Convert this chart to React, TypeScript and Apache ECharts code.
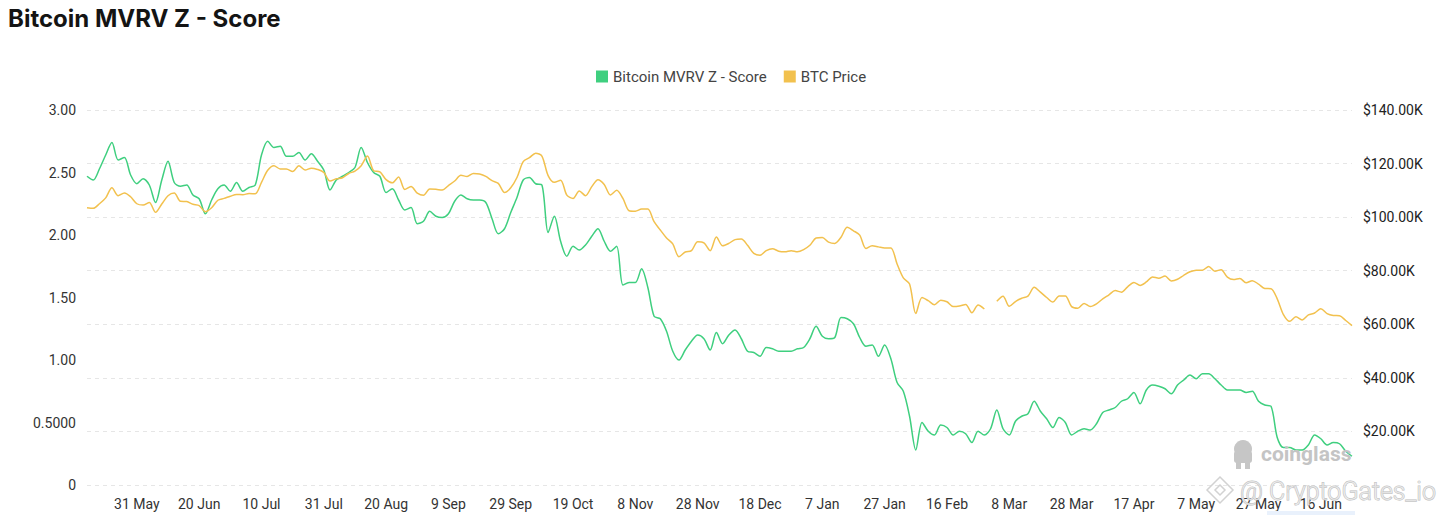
import React, { useEffect, useRef } from 'react';
import * as echarts from 'echarts';

// ---- categories (every 2 days from 15 May 2025, one 3-day step in July) ----
const START_UTC = Date.UTC(2025, 4, 15);
const MONTHS = ['Jan', 'Feb', 'Mar', 'Apr', 'May', 'Jun', 'Jul', 'Aug', 'Sep', 'Oct', 'Nov', 'Dec'];
const STEP_DAYS = 2;
const EXTRA_DAY_FROM_INDEX = 34;
const POINT_COUNT = 204;
const dates: string[] = Array.from({ length: POINT_COUNT }, (_, k) => {
  const d = new Date(START_UTC + (STEP_DAYS * k + (k >= EXTRA_DAY_FROM_INDEX ? 1 : 0)) * 86400000);
  return `${d.getUTCDate()} ${MONTHS[d.getUTCMonth()]}`;
});
const LABEL_FIRST = 8;
const LABEL_EVERY = 10;

// ---- series ----
const mvrvZ: number[] = [
  2.47, 2.44, 2.53, 2.64, 2.74, 2.60, 2.62, 2.48, 2.41, 2.45,
  2.40, 2.26, 2.44, 2.59, 2.42, 2.39, 2.40, 2.32, 2.29, 2.17,
  2.28, 2.37, 2.40, 2.35, 2.42, 2.35, 2.38, 2.40, 2.64, 2.75,
  2.70, 2.71, 2.63, 2.63, 2.66, 2.60, 2.65, 2.59, 2.52, 2.36,
  2.44, 2.47, 2.50, 2.54, 2.70, 2.58, 2.50, 2.47, 2.34, 2.37,
  2.28, 2.20, 2.22, 2.09, 2.11, 2.19, 2.15, 2.14, 2.17, 2.27,
  2.32, 2.29, 2.28, 2.28, 2.26, 2.13, 2.01, 2.05, 2.18, 2.30,
  2.44, 2.46, 2.41, 2.40, 2.02, 2.15, 1.95, 1.83, 1.91, 1.88,
  1.92, 1.99, 2.05, 1.95, 1.87, 1.91, 1.60, 1.62, 1.62, 1.73,
  1.58, 1.35, 1.33, 1.23, 1.07, 1.00, 1.08, 1.15, 1.20, 1.17,
  1.08, 1.22, 1.13, 1.20, 1.24, 1.17, 1.07, 1.06, 1.03, 1.10,
  1.09, 1.07, 1.07, 1.07, 1.09, 1.10, 1.17, 1.27, 1.19, 1.17,
  1.18, 1.34, 1.33, 1.29, 1.18, 1.11, 1.12, 1.03, 1.12, 1.01,
  0.82, 0.75, 0.55, 0.28, 0.50, 0.43, 0.40, 0.48, 0.46, 0.40,
  0.43, 0.41, 0.34, 0.43, 0.40, 0.45, 0.60, 0.45, 0.40, 0.51,
  0.55, 0.57, 0.67, 0.59, 0.53, 0.46, 0.54, 0.50, 0.40, 0.43,
  0.45, 0.44, 0.49, 0.58, 0.60, 0.62, 0.67, 0.69, 0.74, 0.65,
  0.76, 0.80, 0.79, 0.77, 0.73, 0.80, 0.84, 0.88, 0.85, 0.89,
  0.89, 0.85, 0.80, 0.76, 0.76, 0.76, 0.74, 0.75, 0.67, 0.64,
  0.63, 0.38, 0.30, 0.30, 0.28, 0.28, 0.32, 0.40, 0.37, 0.32,
  0.34, 0.33, 0.27, 0.23,
];

// BTC price in thousands of USD (null = missing day)
const btcPriceK: (number | null)[] = [
  103.5, 103.3, 105.0, 107.2, 111.0, 108.0, 109.0, 107.6, 105.0, 104.5,
  105.5, 101.8, 104.9, 108.0, 109.0, 105.9, 105.8, 104.8, 104.3, 102.0,
  103.5, 106.3, 107.0, 107.8, 108.5, 108.4, 108.8, 108.7, 113.0, 117.5,
  119.2, 118.0, 118.0, 117.0, 119.2, 117.6, 118.3, 117.8, 116.7, 113.5,
  114.3, 114.7, 116.3, 117.2, 119.2, 122.8, 117.3, 116.9, 114.0, 112.8,
  115.0, 110.3, 111.4, 109.0, 108.2, 110.5, 110.4, 110.1, 111.8, 113.5,
  115.6, 115.2, 116.3, 116.1, 115.2, 113.6, 112.6, 109.2, 111.0, 114.8,
  120.7, 122.2, 123.9, 122.8, 115.5, 113.0, 113.8, 108.2, 107.0, 109.8,
  108.0, 111.4, 114.0, 112.2, 108.3, 110.0, 107.0, 102.4, 102.2, 103.0,
  103.0, 98.3, 95.2, 92.2, 90.0, 85.2, 87.0, 87.5, 90.8, 90.4,
  87.5, 92.6, 89.3, 90.2, 91.6, 91.8, 89.5, 86.5, 85.8, 87.5,
  88.2, 87.3, 87.1, 87.5, 87.1, 87.9, 89.5, 92.2, 92.4, 90.7,
  90.2, 92.5, 96.2, 94.9, 93.3, 88.3, 89.3, 88.9, 88.5, 88.5,
  82.5, 77.3, 75.0, 64.0, 70.0, 68.8, 67.3, 69.0, 68.4, 66.6,
  66.8, 67.4, 64.3, 67.2, 65.7, null, 68.6, 70.5, 66.7, 68.5,
  69.7, 70.5, 73.8, 72.0, 70.0, 68.3, 70.6, 70.6, 66.6, 66.0,
  67.8, 66.6, 67.6, 69.5, 71.0, 72.6, 72.0, 74.0, 75.6, 74.5,
  75.8, 77.7, 77.2, 78.0, 76.2, 76.8, 78.3, 79.6, 80.2, 80.2,
  81.6, 79.8, 80.4, 77.6, 76.7, 77.1, 75.5, 76.3, 75.0, 73.4,
  73.3, 69.5, 63.6, 61.1, 62.8, 61.6, 63.5, 64.2, 65.8, 64.0,
  63.3, 63.2, 61.4, 59.5,
];

const SERIES_NAMES = ['Bitcoin MVRV Z - Score', 'BTC Price'];
const GREEN = '#3fcf7f';
const YELLOW = '#f2c14e';
const FONT = 'Roboto, "Noto Sans", sans-serif';

export default function App() {
  const ref = useRef<HTMLDivElement>(null);

  useEffect(() => {
    if (!ref.current) return;
    const chart = echarts.init(ref.current, undefined, { renderer: 'svg' });
    chart.setOption({
      animation: false,
      backgroundColor: '#ffffff',
      textStyle: { fontFamily: FONT },
      title: {
        text: 'Bitcoin MVRV Z - Score',
        left: 3,
        top: 1,
        textStyle: { fontFamily: 'Inter, Roboto, sans-serif', fontSize: 24, fontWeight: 700, color: '#141414' },
      },
      legend: {
        data: SERIES_NAMES,
        left: 591,
        top: 64,
        icon: 'rect',
        itemWidth: 12,
        itemHeight: 12,
        itemGap: 17,
        textStyle: { fontFamily: FONT, fontSize: 15, color: '#444444' },
      },
      grid: { left: 87, right: 93, top: 110, bottom: 30, containLabel: false },
      xAxis: {
        type: 'category',
        data: dates,
        boundaryGap: false,
        axisLine: { show: false },
        axisTick: { show: false },
        splitLine: { show: false },
        axisLabel: {
          interval: (i: number) => i >= LABEL_FIRST && (i - LABEL_FIRST) % LABEL_EVERY === 0,
          color: '#333333',
          fontSize: 14,
          fontFamily: FONT,
          margin: 12,
        },
      },
      yAxis: [
        {
          type: 'value',
          position: 'left',
          min: 0,
          max: 3,
          interval: 0.5,
          axisLine: { show: false },
          axisTick: { show: false },
          splitLine: { show: false },
          axisLabel: {
            color: '#333333',
            fontSize: 14,
            fontFamily: FONT,
            margin: 11,
            formatter: (v: number) => (v === 0 ? '0' : v < 1 ? v.toFixed(4) : v.toFixed(2)),
          },
        },
        {
          type: 'value',
          position: 'right',
          min: 0,
          max: 140,
          interval: 20,
          axisLine: { show: false },
          axisTick: { show: false },
          splitLine: { show: true, lineStyle: { type: [4, 4], color: '#e6e6e6', width: 1 } },
          axisLabel: {
            color: '#222222',
            fontSize: 14,
            fontFamily: FONT,
            margin: 11,
            formatter: (v: number) => (v === 0 ? '' : `$${v.toFixed(2)}K`),
          },
        },
      ],
      series: [
        {
          name: SERIES_NAMES[0],
          type: 'line',
          yAxisIndex: 0,
          data: mvrvZ,
          showSymbol: false,
          smooth: 0.3,
          lineStyle: { color: GREEN, width: 1.5 },
          itemStyle: { color: GREEN },
        },
        {
          name: SERIES_NAMES[1],
          type: 'line',
          yAxisIndex: 1,
          data: btcPriceK,
          connectNulls: false,
          showSymbol: false,
          smooth: 0.3,
          lineStyle: { color: YELLOW, width: 1.5 },
          itemStyle: { color: YELLOW },
        },
      ],
      graphic: [
        // coinglass watermark
        { type: 'circle', z: 100, shape: { cx: 1243, cy: 449, r: 9 }, style: { fill: '#c6c6c6' } },
        { type: 'rect', z: 100, shape: { x: 1234, y: 451, width: 18, height: 12, r: 3 }, style: { fill: '#c6c6c6' } },
        { type: 'rect', z: 100, shape: { x: 1236, y: 462, width: 5, height: 7 }, style: { fill: '#c6c6c6' } },
        { type: 'rect', z: 100, shape: { x: 1245, y: 462, width: 5, height: 7 }, style: { fill: '#c6c6c6' } },
        {
          type: 'text', z: 100, x: 1261, y: 454,
          style: { text: 'coinglass', fill: '#c4c4c4', font: `bold 21px ${FONT}`, verticalAlign: 'middle' },
        },
        // CryptoGates watermark
        {
          type: 'polygon', z: 100,
          shape: { points: [[1220, 477], [1233, 490], [1220, 503], [1207, 490]] },
          style: { fill: 'none', stroke: '#d2d2d2', lineWidth: 1.5 },
        },
        {
          type: 'polygon', z: 100,
          shape: { points: [[1220, 485], [1225, 490], [1220, 495], [1215, 490]] },
          style: { fill: 'none', stroke: '#d2d2d2', lineWidth: 1.5 },
        },
        {
          type: 'text', z: 100, x: 1240, y: 491,
          style: {
            text: '@ CryptoGates_io',
            fill: 'rgba(255,255,255,0.55)',
            stroke: '#bdbdbd',
            lineWidth: 1,
            font: `300 25px ${FONT}`,
            verticalAlign: 'middle',
          },
        },
        // slider window edge at the bottom
        { type: 'rect', z: 1, shape: { x: 1267, y: 511, width: 88, height: 6 }, style: { fill: '#e9f1fc' } },
      ],
    });
    return () => chart.dispose();
  }, []);

  return (
    <div
      ref={ref}
      style={{ position: 'absolute', left: 0, top: 0, width: 1445, height: 515 }}
    />
  );
}
